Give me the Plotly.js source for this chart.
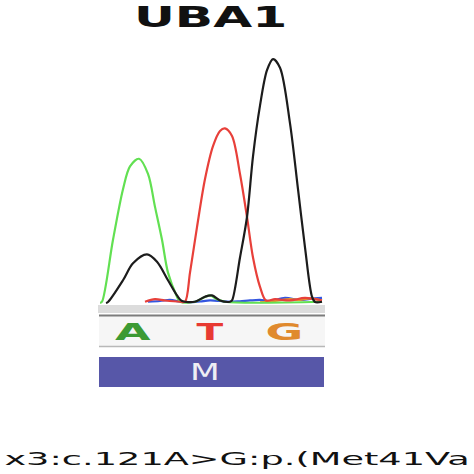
<!DOCTYPE html>
<html>
<head>
<meta charset="utf-8">
<script src="https://cdn.plot.ly/plotly-3.0.1.min.js"></script>
<style>
  html, body { margin: 0; padding: 0; background: #fff; }
  #chart { width: 474px; height: 474px; }
</style>
</head>
<body>
<div id="chart"></div>
<script>
// trace data (scan position, signal 0-100)
const greenX = [0, 2, 13, 23, 30, 39, 48, 55, 62, 68, 77, 80, 95, 103, 110, 117, 125, 222];
const greenY = [0, 0.5, 25, 45, 54, 57, 51, 38, 25, 12, 2.5, 0.5, 0.5, 2, 3, 1.5, 0.5, 0.5];

const blackX = [6, 8, 23, 33, 47, 57, 68, 77, 82, 95, 105, 112, 120, 130, 132, 140, 147, 153, 160, 167, 173, 180, 190, 198, 205, 212, 215, 222];
const blackY = [0, 0.4, 9, 15.7, 19.2, 16.3, 9, 3, 0.8, 0.5, 2.5, 3, 1, 0.5, 1, 18, 34, 58, 78, 92, 96.4, 93, 71, 45, 22, 2.5, 0.4, 0.5];

const redX = [45, 55, 65, 80, 85, 90, 97, 105, 113, 120, 125, 132, 140, 147, 153, 160, 166, 175, 190, 205, 222];
const redY = [0.5, 1.5, 1, 0.5, 0.5, 12, 30, 49, 62, 68, 69, 66, 51, 34, 18, 6.4, 1, 1.5, 1, 2, 1];

const blueX = [48, 60, 70, 80, 90, 100, 110, 120, 130, 140, 150, 160, 170, 185, 200, 210, 222];
const blueY = [0.5, 0.8, 1.2, 0.6, 0.3, 0.6, 1, 0.8, 0.5, 0.7, 1, 1.2, 0.8, 2, 1.2, 1.6, 2];

const orangeX = [160, 175, 190, 200, 210, 222];
const orangeY = [0.3, 0.8, 1.5, 1.2, 1.8, 1];

// base calls and translation
const baseCalls = ["A", "T", "G"];
const basePositions = [33, 110, 184];
const aminoAcids = ["M"];
const aminoPositions = [105];

const geneName = "UBA1";
const variantText = "x3:c.121A>G:p.(Met41Va"; // the part visible in the figure

const W = 474;
const px = (v) => v / W; // pixel -> paper (x)
const py = (v) => (W - v) / W; // pixel from top -> paper (y)

const baseColors = { A: "#3c9a34", T: "#e83a32", G: "#e08a2e", C: "#3050d8" };

const lineTrace = (x, y, color) => ({
  x: x,
  y: y,
  mode: "lines",
  line: { color: color, width: 2.2, shape: "spline", smoothing: 0.9 },
  hoverinfo: "skip",
  showlegend: false,
});

const data = [
  lineTrace(blueX, blueY, "#3456e0"),
  lineTrace(orangeX, orangeY, "#e8902c"),
  lineTrace(greenX, greenY, "#62e052"),
  lineTrace(redX, redY, "#e8403a"),
  lineTrace(blackX, blackY, "#1c1c1c"),
];

const annotations = [];
const stretch = [];
const origin = [];

const label = (opts) => Object.assign({ showarrow: false, xanchor: "center", yanchor: "middle" }, opts);

// title
annotations.push(label({
  text: "<b>" + geneName + "</b>",
  xref: "paper", yref: "paper",
  x: px(210.5), y: py(17.5),
  font: { family: "DejaVu Sans", size: 28, color: "#111" },
}));
stretch.push(1.8);
origin.push("center");

// base call letters
baseCalls.forEach((b, i) => {
  annotations.push(label({
    text: "<b>" + b + "</b>",
    xref: "x", yref: "paper",
    x: basePositions[i], y: py(331.5),
    font: { family: "DejaVu Sans", size: 23, color: baseColors[b] },
  }));
  stretch.push(b === "T" ? 1.7 : 2.0);
  origin.push("center");
});

// amino acid
aminoAcids.forEach((a, i) => {
  annotations.push(label({
    text: a,
    xref: "x", yref: "paper",
    x: aminoPositions[i], y: py(371.5),
    font: { family: "DejaVu Sans", size: 23, color: "#eeeef4" },
  }));
  stretch.push(1.5);
  origin.push("center");
});

// variant description
annotations.push(label({
  text: variantText,
  xref: "paper", yref: "paper",
  x: px(236.5), y: py(458.5),
  font: { family: "DejaVu Sans", size: 18, color: "#111" },
}));
stretch.push(2.04);
origin.push("center");

const shapes = [
  // gray band under the traces
  { type: "rect", xref: "paper", yref: "paper", x0: px(98), x1: px(325), y0: py(313), y1: py(305),
    fillcolor: "#dcdcdc", line: { width: 0 }, layer: "below" },
  // base call strip
  { type: "rect", xref: "paper", yref: "paper", x0: px(99), x1: px(325), y0: py(346), y1: py(316),
    fillcolor: "#f6f6f6", line: { width: 0 }, layer: "below" },
  { type: "line", xref: "paper", yref: "paper", x0: px(99), x1: px(325), y0: py(315.5), y1: py(315.5),
    line: { color: "#7c7c7c", width: 2 } },
  { type: "line", xref: "paper", yref: "paper", x0: px(99), x1: px(325), y0: py(346.5), y1: py(346.5),
    line: { color: "#b8b8b8", width: 1.5 } },
  // amino acid bar
  { type: "rect", xref: "paper", yref: "paper", x0: px(99), x1: px(324), y0: py(387), y1: py(357),
    fillcolor: "#5757a8", line: { width: 0 }, layer: "below" },
];

const layout = {
  width: 474,
  height: 474,
  margin: { t: 0, b: 0, l: 0, r: 0 },
  paper_bgcolor: "#ffffff",
  plot_bgcolor: "rgba(0,0,0,0)",
  xaxis: { domain: [px(100), px(325)], range: [0, 225], visible: false, fixedrange: true },
  yaxis: { domain: [py(308.06), py(50)], range: [-2, 100], visible: false, fixedrange: true },
  annotations: annotations,
  shapes: shapes,
  showlegend: false,
};

Plotly.newPlot("chart", data, layout, { staticPlot: true }).then((gd) => {
  // the source image is stretched sideways, so widen the text to match
  gd.querySelectorAll("g.annotation").forEach((g) => {
    const i = +g.getAttribute("data-index");
    const t = g.querySelector("text.annotation-text");
    if (!t || stretch[i] === undefined) return;
    t.style.transformBox = "fill-box";
    t.style.transformOrigin = origin[i];
    t.style.transform = "scaleX(" + stretch[i] + ")";
  });
});
</script>
</body>
</html>
